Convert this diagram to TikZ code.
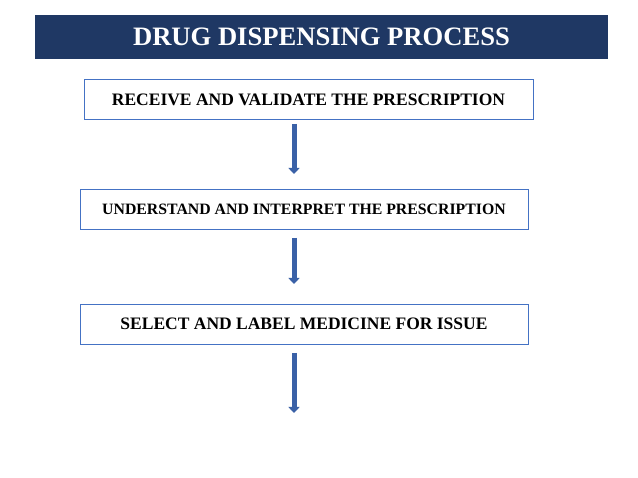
\documentclass[tikz,border=0pt]{standalone}
\usepackage{fontspec}
\setmainfont{Liberation Serif}
\usetikzlibrary{arrows.meta}
\definecolor{navy}{HTML}{1F3864}
\definecolor{bblue}{HTML}{4472C4}
\begin{document}
\begin{tikzpicture}[x=1pt,y=-1pt,
  stepbox/.style={draw=bblue,line width=0.8pt,minimum height=40pt,inner sep=0pt,font=\bfseries\fontsize{17.5}{20}\selectfont},
  flow/.style={draw=bblue!85!black,line width=5pt,-{Triangle[width=11pt,length=6pt]}}]
\useasboundingbox[fill=white] (0,0) rectangle (638,478);
\node[fill=navy,minimum width=573pt,minimum height=44pt,text=white,font=\bfseries\fontsize{26.6}{30}\selectfont] (title) at (321.5,37) {DRUG DISPENSING PROCESS};
\node[stepbox,minimum width=449pt] (b1) at (308.5,99.5) {RECEIVE AND VALIDATE THE PRESCRIPTION};
\node[stepbox,minimum width=448pt,font=\bfseries\fontsize{15.8}{18}\selectfont] (b2) at (304,209) {UNDERSTAND AND INTERPRET THE PRESCRIPTION};
\node[stepbox,minimum width=448pt] (b3) at (304,324) {SELECT AND LABEL MEDICINE FOR ISSUE};
\coordinate (a1s) at (294,124); \coordinate (a1e) at (294,174);
\coordinate (a2s) at (294,238); \coordinate (a2e) at (294,284);
\coordinate (a3s) at (294,353); \coordinate (a3e) at (294,413);
\draw[flow] (a1s) -- (a1e);
\draw[flow] (a2s) -- (a2e);
\draw[flow] (a3s) -- (a3e);
\end{tikzpicture}
\end{document}
